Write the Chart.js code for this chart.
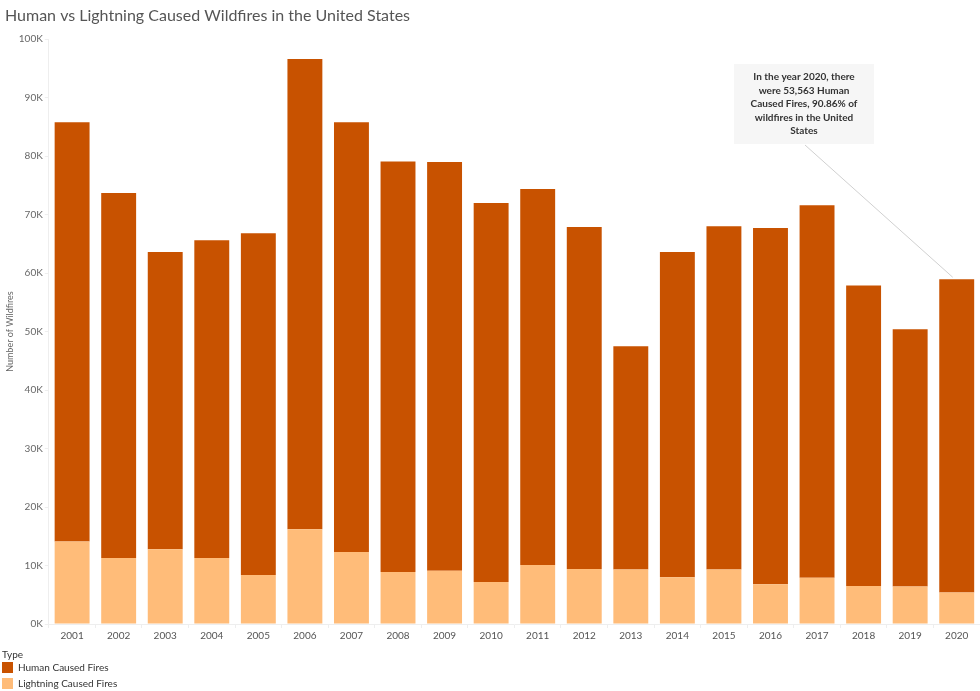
<!DOCTYPE html>
<html>
<head>
<meta charset="utf-8">
<script src="https://cdn.jsdelivr.net/npm/chart.js@4"></script>
<style>
  html, body { margin: 0; padding: 0; background: #fff; }
  #wrap { position: relative; width: 980px; height: 691px; font-family: Lato, "Open Sans", sans-serif; }
  #c { position: absolute; left: 0; top: 0; }
  #legend { position: absolute; left: 2px; top: 649px; font-size: 10px; color: #333; }
  #legend .t { height: 10px; line-height: 10px; }
  #legend .it { display: flex; align-items: center; height: 16px; }
  #legend .sw { width: 11px; height: 11px; margin-right: 5px; }
</style>
</head>
<body>
<div id="wrap">
  <canvas id="c" width="980" height="691"></canvas>
  <div id="legend"></div>
</div>
<script>
const years = ["2001","2002","2003","2004","2005","2006","2007","2008","2009","2010",
               "2011","2012","2013","2014","2015","2016","2017","2018","2019","2020"];
const humanFires = [71700, 62400, 50800, 54300, 58400, 80400, 73500, 70200, 69900, 64800,
                    64300, 58500, 38200, 55600, 58700, 60900, 63700, 51400, 44000, 53563];
const lightningFires = [14100, 11300, 12800, 11300, 8400, 16200, 12300, 8900, 9100, 7200,
                        10100, 9400, 9300, 8000, 9300, 6800, 7900, 6500, 6400, 5388];
const yTicks = [0, 10000, 20000, 30000, 40000, 50000, 60000, 70000, 80000, 90000, 100000];
const seriesNames = ["Human Caused Fires", "Lightning Caused Fires"];
const seriesColors = ["#C85200", "#FFBC79"];
const noteLines = ["In the year 2020, there", "were 53,563 Human", "Caused Fires, 90.86% of", "wildfires in the United", "States"];

const FONT = 'Lato, "Open Sans", sans-serif';

const annotationPlugin = {
  id: 'note',
  afterDraw(chart) {
    const ctx = chart.ctx;
    const x = chart.scales.x, y = chart.scales.y;
    const i = years.indexOf("2020");
    const px = x.getPixelForValue(i);
    const py = y.getPixelForValue(humanFires[i] + lightningFires[i]);
    const bx = 734, by = 64, bw = 140, bh = 80;
    ctx.save();
    ctx.strokeStyle = '#d0d0d0';
    ctx.lineWidth = 1;
    ctx.beginPath();
    ctx.moveTo(805, by + bh + 1);
    ctx.lineTo(px - 4, py - 2);
    ctx.stroke();
    ctx.fillStyle = '#f6f6f6';
    ctx.fillRect(bx, by, bw, bh);
    ctx.fillStyle = '#333';
    ctx.font = 'bold 10px ' + FONT;
    ctx.textAlign = 'center';
    ctx.textBaseline = 'middle';
    noteLines.forEach((l, k) => ctx.fillText(l, bx + bw / 2, by + 13 + k * 13.5));
    ctx.restore();
  }
};

const chart = new Chart(document.getElementById('c'), {
  type: 'bar',
  data: {
    labels: years,
    datasets: [
      { label: seriesNames[1], data: lightningFires, backgroundColor: seriesColors[1], stack: 's' },
      { label: seriesNames[0], data: humanFires, backgroundColor: seriesColors[0], stack: 's' }
    ]
  },
  options: {
    responsive: false,
    animation: false,
    layout: { padding: { left: 5, right: 0, top: 0, bottom: 47 } },
    datasets: { bar: { categoryPercentage: 0.75, barPercentage: 1 } },
    plugins: {
      legend: { display: false },
      tooltip: { enabled: false },
      title: {
        display: true,
        text: 'Human vs Lightning Caused Wildfires in the United States',
        align: 'start',
        color: '#555',
        font: { family: FONT, size: 16, weight: 'normal' },
        padding: { top: 6, bottom: 14 }
      }
    },
    scales: {
      x: {
        stacked: true,
        grid: { display: true, drawOnChartArea: false, color: '#eeeeee', tickLength: 4 },
        border: { color: '#eeeeee' },
        ticks: { color: '#555', font: { family: FONT, size: 10 }, padding: 2, maxRotation: 0 }
      },
      y: {
        stacked: true,
        min: 0,
        max: 100000,
        afterBuildTicks(s) { s.ticks = yTicks.map(v => ({ value: v })); },
        grid: { display: true, drawOnChartArea: false, color: '#eeeeee', tickLength: 4 },
        border: { color: '#eeeeee' },
        title: { display: true, text: 'Number of Wildfires', color: '#666', font: { family: FONT, size: 9 }, padding: { top: 0, bottom: 1 } },
        ticks: {
          color: '#666', font: { family: FONT, size: 10 }, padding: 2,
          callback: v => (v / 1000) + 'K'
        }
      }
    }
  },
  plugins: [annotationPlugin]
});

const lg = document.getElementById('legend');
lg.innerHTML = '<div class="t">Type</div>' + seriesNames.map((n, k) =>
  '<div class="it"><div class="sw" style="background:' + seriesColors[k] + '"></div>' + n + '</div>').join('');
</script>
</body>
</html>
